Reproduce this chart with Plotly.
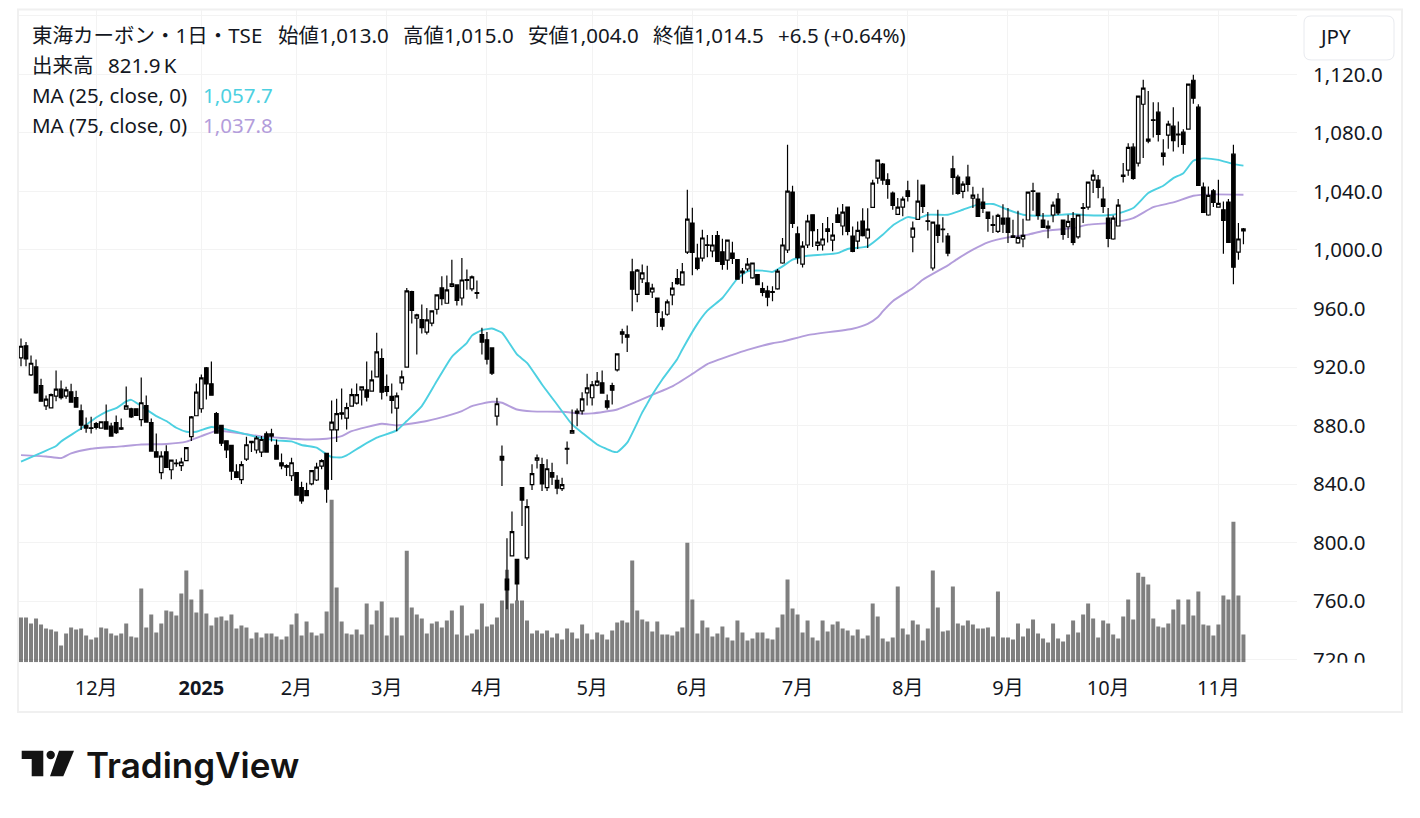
import plotly.graph_objects as go

opens = [
926.3,934.5,914.7,920.1,907.4,893.5,892.1,900.1,904.9,900.1,
903.1,899.2,890.1,880.1,878.5,881.4,878.3,882.6,879.6,882.1,
878.5,891.2,891.5,891.5,884.0,893.7,882.1,862.1,847.8,862.1,
849.8,854.4,852.6,856.0,872.4,886.7,891.5,919.5,908.5,888.1,
880.1,869.6,866.5,848.4,843.0,857.1,869.2,863.3,861.9,874.4,
874.4,866.5,854.6,852.6,845.7,847.8,837.6,835.5,840.1,842.8,
852.3,861.0,877.1,877.1,888.7,885.1,893.3,895.3,904.4,904.4,
903.5,913.3,925.8,906.7,899.9,891.9,909.2,919.9,971.6,953.4,
952.5,943.8,950.0,959.5,974.1,963.6,975.2,976.1,967.2,979.8,
973.4,970.9,942.2,938.6,933.1,886.5,858.9,775.0,790.9,788.6,
837.6,789.6,839.6,856.4,853.3,837.6,847.8,842.6,836.9,864.4,
874.9,889.9,890.1,902.4,899.0,907.6,909.2,896.9,907.4,918.1,
944.1,942.0,985.0,969.7,980.2,977.5,971.3,967.2,952.9,956.1,
969.3,980.4,976.1,998.6,1018.4,994.5,994.5,1003.6,999.3,1009.8,
998.8,993.1,997.9,993.4,984.3,987.0,980.9,983.1,973.6,972.0,
971.5,973.4,991.1,1000.0,1039.6,1011.1,990.4,1003.4,1024.1,1003.2,
1003.4,1014.5,1006.8,1024.1,1016.4,1029.3,1009.5,1006.1,1019.8,1008.2,
1029.1,1049.1,1058.7,1048.0,1038.9,1024.3,1029.3,1040.5,1008.8,1020.9,
1044.3,1020.0,987.7,1017.0,1014.3,1009.5,1055.5,1049.8,1040.0,1049.8,
1035.5,1034.8,1032.8,1025.9,1017.3,1012.7,1021.8,1021.8,1009.6,1004.8,
1007.5,1020.5,1040.0,1038.9,1020.5,1016.4,1023.9,1034.8,1020.5,1015.9,
1021.4,1008.9,1028.4,1029.3,1047.8,1047.8,1034.8,1021.8,1007.5,1016.4,
1051.2,1054.6,1070.3,1059.4,1099.6,1074.4,1089.0,1094.2,1066.2,1078.5,
1084.6,1079.2,1080.5,1082.6,1116.0,1097.6,1043.0,1023.9,1040.5,1029.3,
1027.5,1032.8,1065.5,998.6,1013.0]

highs = [
939.5,937.2,927.9,925.1,912.0,900.6,902.0,917.6,910.8,906.5,
908.5,903.8,894.4,885.6,886.0,882.4,882.6,894.4,881.9,886.9,
884.9,906.7,892.2,891.5,912.9,900.6,884.9,874.6,862.4,866.5,
856.7,856.9,858.0,864.9,886.5,908.8,914.9,920.1,923.8,889.2,
880.1,869.6,866.5,853.5,855.6,872.4,869.2,872.8,872.8,876.0,
877.8,870.5,861.0,853.5,858.0,847.8,841.6,840.9,849.2,854.6,
856.9,861.4,897.2,898.3,905.4,895.6,905.4,908.8,906.5,923.8,
917.6,943.4,932.7,914.9,908.8,902.6,917.6,974.0,972.2,956.5,
962.7,960.4,958.4,969.5,982.0,982.5,993.4,976.3,994.5,986.6,
982.5,979.1,946.8,944.0,933.1,899.0,866.4,803.0,821.2,788.6,
837.6,829.6,853.5,860.3,858.0,856.9,854.6,846.0,844.4,869.2,
891.0,891.7,902.8,915.4,910.4,916.7,917.6,901.3,909.2,929.2,
946.1,948.4,994.1,987.0,990.0,989.3,977.0,967.2,958.1,966.1,
978.1,987.0,991.1,1041.1,1028.9,1004.3,1013.9,1010.2,1010.2,1012.9,
1007.7,1006.8,1005.7,993.4,987.7,994.5,991.1,983.1,977.9,975.6,
975.2,987.0,1008.2,1071.9,1043.9,1016.1,1005.9,1024.1,1024.1,1014.3,
1018.4,1022.5,1018.4,1029.1,1031.4,1029.3,1016.1,1019.5,1028.6,1028.6,
1048.0,1061.4,1059.4,1052.5,1040.0,1035.5,1036.6,1047.3,1019.5,1048.0,
1044.6,1025.9,1019.5,1027.5,1022.3,1011.6,1064.4,1051.4,1046.9,1058.2,
1043.2,1038.4,1042.6,1025.9,1023.6,1024.8,1031.2,1028.7,1020.7,1026.8,
1021.4,1039.6,1046.0,1038.9,1025.2,1020.2,1033.2,1038.9,1020.7,1024.1,
1026.0,1023.9,1032.1,1046.4,1054.8,1051.2,1043.2,1028.7,1023.6,1034.8,
1059.4,1073.0,1073.0,1105.3,1116.3,1108.7,1101.0,1101.0,1075.7,1088.3,
1097.6,1087.8,1082.6,1113.3,1119.7,1099.6,1046.2,1043.4,1041.6,1048.0,
1033.2,1034.8,1071.9,1018.4,1015.0]

lows = [
920.6,920.6,913.8,901.7,896.7,890.6,891.9,896.7,897.8,898.3,
896.0,892.6,876.9,875.1,874.6,877.4,878.0,877.4,872.8,874.2,
876.9,891.2,885.1,886.9,879.6,882.4,862.6,858.5,843.3,851.4,
843.3,851.9,848.9,855.8,869.4,886.5,888.7,897.8,900.6,874.6,
866.0,857.8,842.8,844.4,840.1,855.8,861.9,861.0,858.5,861.9,
869.2,856.9,850.1,845.5,842.1,832.5,826.6,831.9,839.2,842.1,
850.1,827.3,842.8,868.7,884.2,877.4,893.3,894.4,893.7,896.5,
903.5,913.3,897.8,900.1,888.3,876.2,904.2,919.9,949.7,928.6,
942.9,942.2,947.9,955.9,962.2,963.4,974.5,962.0,962.0,972.9,
971.8,966.6,928.6,921.7,914.5,880.1,838.7,754.5,790.9,760.2,
811.4,788.2,836.0,850.7,835.3,835.3,839.4,833.0,835.3,853.5,
874.9,879.6,887.6,893.7,893.7,906.9,902.0,891.0,894.4,917.0,
936.1,930.2,958.1,964.3,977.5,969.5,967.2,947.4,945.1,955.1,
962.2,976.3,975.9,997.2,982.7,986.1,992.2,995.0,995.0,992.2,
986.5,986.5,990.4,979.7,977.0,985.4,980.4,975.9,968.4,961.5,
964.9,972.9,990.6,997.9,1015.0,990.6,988.1,1001.3,1002.0,999.7,
999.7,1005.2,999.1,1018.4,1010.0,1010.0,998.4,1000.7,1009.3,1001.3,
1029.1,1045.2,1044.6,1035.0,1027.5,1023.9,1023.0,1033.2,998.4,1020.7,
1025.2,1013.4,985.9,1004.8,1005.2,995.7,1037.8,1037.8,1035.3,1040.0,
1028.7,1023.0,1025.2,1012.5,1011.6,1011.6,1011.6,1004.8,1008.4,1004.3,
1001.8,1020.2,1026.8,1020.7,1015.2,1008.0,1018.9,1023.9,1007.0,1008.2,
1003.2,1007.7,1018.4,1027.5,1038.9,1035.3,1025.2,1001.8,1007.0,1016.2,
1046.2,1050.7,1048.0,1057.1,1062.8,1073.0,1076.9,1074.2,1057.8,1069.2,
1067.3,1070.3,1065.7,1082.6,1099.9,1044.1,1025.7,1023.4,1029.3,1029.1,
997.5,1005.2,976.6,993.4,1004.0]

closes = [
934.2,925.6,922.6,902.4,896.7,898.1,901.1,904.9,899.0,904.4,
896.0,892.6,880.3,878.3,878.0,878.7,882.6,877.6,872.8,875.1,
877.6,893.5,886.0,886.9,895.6,882.4,862.6,858.5,859.2,851.4,
856.4,853.9,855.1,864.9,886.0,902.8,912.6,908.5,900.8,874.9,
868.0,863.3,848.9,844.6,853.3,866.9,868.3,871.5,870.5,861.9,
872.8,857.1,852.4,851.6,854.6,832.5,828.5,832.1,849.2,851.6,
856.0,836.6,882.4,888.1,887.8,892.2,901.1,901.1,906.5,899.4,
911.3,930.4,902.8,903.3,897.2,900.3,913.3,972.0,958.8,955.6,
947.0,952.2,958.4,969.3,966.8,972.7,976.8,965.6,979.5,979.3,
981.6,970.4,937.0,925.4,915.8,894.9,856.4,767.7,807.5,771.8,
829.1,824.6,847.1,858.0,840.1,850.5,844.8,837.3,839.6,863.9,
876.5,888.5,898.3,905.8,907.9,910.4,902.2,892.6,904.2,929.0,
942.4,940.4,973.2,986.3,984.3,969.7,974.0,957.4,947.9,964.5,
974.0,977.0,985.0,1021.1,998.4,987.5,1008.2,1003.2,1003.4,992.2,
990.2,1006.8,994.3,980.0,985.6,990.4,991.1,976.3,971.1,967.7,
971.1,985.6,1003.4,1040.2,1018.2,994.7,1002.7,1019.8,1013.2,1005.4,
1007.5,1012.7,1010.2,1018.9,1025.9,1012.7,999.1,1013.4,1009.8,1014.3,
1045.7,1061.4,1047.8,1044.8,1030.5,1029.3,1034.8,1036.6,1015.0,1033.4,
1029.8,1019.5,1019.1,1010.0,1013.9,997.9,1049.6,1038.7,1045.0,1044.8,
1037.5,1023.0,1028.4,1021.6,1016.8,1023.6,1017.7,1012.1,1008.6,1008.6,
1010.0,1039.6,1040.5,1023.6,1015.5,1015.0,1030.7,1025.3,1010.7,1019.6,
1005.2,1023.9,1028.9,1046.4,1051.2,1042.8,1029.8,1008.0,1021.8,1030.7,
1050.3,1070.1,1048.9,1105.1,1110.6,1075.8,1088.5,1079.0,1063.9,1086.0,
1074.8,1078.7,1072.1,1113.3,1103.7,1044.1,1025.7,1037.3,1032.5,1031.8,
1020.2,1005.2,988.2,1007.5,1014.5]

volumes_k = [
1327,1327,1148,1297,1119,1000,970,911,495,851,
1030,970,1000,792,673,733,1030,1000,851,792,
851,1148,762,733,2188,1030,1416,881,1148,1535,
1505,1386,2039,2723,1861,1475,2158,1445,1089,1327,
1356,1238,1416,1000,1089,1030,703,881,733,851,
851,762,673,762,1119,1445,792,1208,881,792,
851,1505,4830,2218,1208,851,822,970,822,1742,
1119,1535,1802,792,1327,1327,792,3317,1624,1416,
1297,851,1148,1208,1030,1238,1535,822,1683,792,
851,970,1742,1059,1119,1327,1832,2752,1742,1832,
1832,1238,851,941,851,941,733,851,673,1000,
881,703,1119,851,673,881,822,673,941,1178,
1238,1178,3020,1535,1267,1208,911,1208,822,822,
792,911,1030,3554,1861,851,1238,1030,762,851,
1059,733,644,1238,881,644,703,881,881,703,
673,1030,1416,2455,1594,1416,881,1238,733,644,
1238,911,1119,1208,1000,941,792,970,703,792,
1742,1356,703,614,733,2247,1000,822,1238,1119,
644,1000,2723,1624,911,941,2247,1148,1089,1238,
1119,1000,1000,1030,762,2099,733,733,673,1148,
762,1000,1267,851,703,584,1148,703,614,822,
1238,881,1416,1742,1297,733,1238,1148,822,703,
1356,1861,1267,2663,2544,2307,1297,1059,1030,1148,
1564,1861,1119,1861,1386,2099,1119,1089,792,1119,
1980,1861,4178,1980,821.9]

ma25_idx = [0,4,7,8,12,15,17,19,21,22,24,25,27,29,31,33,35,38,41,45,48,51,54,56,59,61,62,64,
            65,68,71,75,77,80,83,86,89,90,92,94,96,99,101,104,107,110,112,115,118,119,121,124,
            125,126,128,131,132,135,137,140,143,145,148,150,152,154,157,160,163,165,169,172,174,177,179,181,185,
            188,191,194,197,200,205,210,213,218,222,225,228,230,232,234,236,239,242,244]
ma25_val = [855.3,861.4,866.0,869.2,878.0,885.5,889.4,891.9,896.5,897.6,893.3,891.0,886.5,883.1,878.5,875.8,875.8,879.0,877.4,874.0,871.5,869.9,869.2,866.7,864.9,860.3,858.5,858.3,
            859.6,866.0,871.7,876.7,883.1,893.3,910.4,927.0,936.5,941.5,945.2,946.3,943.4,928.6,922.9,908.1,894.4,880.8,875.1,867.1,862.4,861.9,868.3,889.0,
            895.0,901.0,911.5,925.5,932.0,949.5,958.5,967.2,980.4,985.4,985.9,985.0,988.8,993.4,996.1,996.8,997.9,1000.7,1002.5,1010.4,1016.8,1022.5,1021.4,1024.1,1024.1,
            1027.5,1031.0,1031.4,1027.5,1024.1,1023.4,1024.6,1023.7,1024.1,1028.7,1038.9,1043.9,1049.1,1052.5,1061.0,1062.6,1061.6,1058.7,1057.7]

ma75_idx = [0,5,8,10,14,20,24,29,33,36,39,44,48,52,57,61,64,
            66,72,75,81,83,88,90,94,96,99,102,108,112,114,119,
            123,126,130,134,137,142,145,150,152,157,166,169,171,172,174,178,180,185,
            187,190,193,197,201,204,210,213,217,222,226,230,234,238,244]
ma75_val = [859.8,858.9,857.8,861.0,864.2,865.8,867.1,867.4,869.0,872.8,876.4,874.6,872.6,871.5,870.5,871.0,872.8,
            876.2,881.2,880.1,883.1,884.7,889.9,893.3,896.3,895.6,891.0,889.7,889.4,888.1,888.3,891.0,
            896.5,901.0,906.8,915.3,922.0,928.3,931.7,936.3,937.4,941.8,946.2,949.5,954.0,958.0,965.0,974.0,979.7,989.5,
            994.1,1000.2,1005.2,1008.6,1010.5,1013.0,1015.0,1017.3,1018.4,1021.8,1029.3,1032.5,1037.1,1038.0,1037.8]

month_idx = [15,36,55,73,93,114,134,155,177,197,217,239]
month_labels = ["12月","<b>2025</b>","2月","3月","4月","5月","6月","7月","8月","9月","10月","11月"]
price_ticks = [720,760,800,840,880,920,960,1000,1040,1080,1120,1160]
price_labels = ["720.0","760.0","800.0","840.0","880.0","920.0","960.0","1,000.0","1,040.0","1,080.0","1,120.0",""]

W, H = 1420, 818
H_EFF = 808   # height of the drawing area plotly leaves for paper coordinates
BAR = 5.01
X0 = 21.0
PL, PR, PT, PB = 19, 1297, 10, 663
PX_PER_UNIT = 1.465
Y1000 = 250.3
PX_PER_K = 1 / 29.7

def fx(x): return x / W
def fy(y): return 1 - y / H_EFF

x_range = [(PL - X0) / BAR, (PR - X0) / BAR]
p_range = [1000 - (PB - Y1000) / PX_PER_UNIT, 1000 + (Y1000 - PT) / PX_PER_UNIT]
v_range = [0, (PB - PT) / PX_PER_K]
domain = [fy(PB), fy(PT)]

FONT = "'Noto Sans','Noto Sans CJK JP',sans-serif"
INK = "#131722"
GRID = "#f3f3f3"
SIZE = 20.5
xs = list(range(len(opens)))

fig = go.Figure()
fig.add_trace(go.Bar(x=xs, y=volumes_k, yaxis="y", marker=dict(color="rgba(0,0,0,0.5)", line=dict(width=0)),
                     width=0.8, showlegend=False, hoverinfo="skip"))
fig.add_trace(go.Scatter(x=ma75_idx, y=ma75_val, yaxis="y2", mode="lines",
                         line=dict(color="#b39ddb", width=1.9, shape="spline", smoothing=0.5), showlegend=False))
fig.add_trace(go.Scatter(x=ma25_idx, y=ma25_val, yaxis="y2", mode="lines",
                         line=dict(color="#4dd0e1", width=1.9, shape="spline", smoothing=0.5), showlegend=False))
fig.add_trace(go.Candlestick(x=xs, open=opens, high=highs, low=lows, close=closes, yaxis="y3",
                             increasing=dict(line=dict(color="#000000", width=1.2), fillcolor="#ffffff"),
                             decreasing=dict(line=dict(color="#000000", width=1.2), fillcolor="#000000"),
                             whiskerwidth=0, showlegend=False))

annots = []
def text(x, y, s, color=INK, size=SIZE, anchor="left", weight=None, family=FONT):
    f = dict(family=family, size=size, color=color)
    if weight:
        f["weight"] = weight
    annots.append(dict(x=fx(x), y=fy(y), xref="paper", yref="paper", text=s, showarrow=False,
                       xanchor=anchor, yanchor="middle", font=f,
                       borderpad=0, borderwidth=0))

text(32, 35, "東海カーボン・1日・TSE")
text(278, 35, "始値1,013.0")
text(403, 35, "高値1,015.0")
text(528, 35, "安値1,004.0")
text(653, 35, "終値1,014.5")
text(778, 35, "+6.5 (+0.64%)")
text(32, 65, "出来高")
text(108, 65, "821.9\u2009K")
text(32, 95, "MA (25, close, 0)")
text(203, 95, "1,057.7", color="#4dd0e1")
text(32, 125, "MA (75, close, 0)")
text(203, 125, "1,037.8", color="#b39ddb")
text(1319, 36, "JPY")
text(86, 766, "TradingView", color="#131313", size=35, weight=600, family="Inter, sans-serif")

def rounded(x0, y0, x1, y1, r):
    return (f"M{fx(x0+r)},{fy(y0)} L{fx(x1-r)},{fy(y0)} Q{fx(x1)},{fy(y0)} {fx(x1)},{fy(y0+r)} "
            f"L{fx(x1)},{fy(y1-r)} Q{fx(x1)},{fy(y1)} {fx(x1-r)},{fy(y1)} "
            f"L{fx(x0+r)},{fy(y1)} Q{fx(x0)},{fy(y1)} {fx(x0)},{fy(y1-r)} "
            f"L{fx(x0)},{fy(y0+r)} Q{fx(x0)},{fy(y0)} {fx(x0+r)},{fy(y0)} Z")

def poly(pts):
    return "M" + " L".join(f"{fx(a)},{fy(b)}" for a, b in pts) + " Z"

LOGO = "#131313"
shapes = [
    dict(type="rect", xref="paper", yref="paper", x0=fx(18), x1=fx(1402), y0=fy(713), y1=fy(9.5),
         line=dict(color="#f0f0f0", width=2), fillcolor="rgba(0,0,0,0)", layer="below"),
    dict(type="rect", xref="paper", yref="paper", x0=fx(1299), x1=fx(1400), y0=fy(675), y1=fy(PB + 0.5),
         line=dict(width=0), fillcolor="#ffffff", layer="above"),
    dict(type="path", xref="paper", yref="paper", path=rounded(1304, 16, 1394, 60, 7),
         line=dict(color="#e8eaef", width=1), fillcolor="#ffffff", layer="below"),
    dict(type="path", xref="paper", yref="paper",
         path=poly([(21.7, 751.7), (43.3, 751.7), (43.3, 777.3), (31.7, 777.3), (31.7, 760), (21.7, 760)]),
         line=dict(width=0), fillcolor=LOGO, layer="above"),
    dict(type="circle", xref="paper", yref="paper", x0=fx(46.5), x1=fx(54.9), y0=fy(760.2), y1=fy(751.8),
         line=dict(width=0), fillcolor=LOGO, layer="above"),
    dict(type="path", xref="paper", yref="paper",
         path=poly([(59, 751.7), (74, 751.7), (63.3, 777.3), (50, 777.3)]),
         line=dict(width=0), fillcolor=LOGO, layer="above"),
]

hidden_y = dict(visible=False, showgrid=False, zeroline=False, fixedrange=True)
fig.update_layout(
    width=W, height=H, autosize=False,
    margin=dict(l=0, r=0, t=0, b=0),
    paper_bgcolor="#ffffff", plot_bgcolor="#ffffff",
    showlegend=False, boxgap=0.3, boxgroupgap=0, bargap=0.2,
    font=dict(family=FONT, color=INK, size=SIZE),
    annotations=annots, shapes=shapes,
    xaxis=dict(domain=[fx(PL), fx(PR)], range=x_range, rangeslider=dict(visible=False),
               tickmode="array", tickvals=month_idx, ticktext=month_labels,
               showgrid=True, gridcolor=GRID, gridwidth=1, zeroline=False, showline=False,
               ticks="outside", ticklen=8, tickcolor="rgba(0,0,0,0)", tickfont=dict(size=20, color=INK),
               tickangle=0, anchor="y"),
    yaxis=dict(domain=domain, range=v_range, **hidden_y),
    yaxis2=dict(domain=domain, range=p_range, overlaying="y", **hidden_y),
    yaxis3=dict(domain=domain, range=p_range, overlaying="y", side="right", anchor="x",
                tickmode="array", tickvals=price_ticks, ticktext=price_labels,
                showgrid=True, gridcolor=GRID, gridwidth=1, zeroline=False, showline=False,
                ticks="outside", ticklen=11, tickcolor="rgba(0,0,0,0)", tickfont=dict(size=SIZE, color=INK),
                fixedrange=True),
)

fig.write_html("out.html", include_plotlyjs=True,
               config=dict(displayModeBar=False, responsive=False),
               post_script="document.body.style.margin='0';document.body.style.overflow='hidden';")
